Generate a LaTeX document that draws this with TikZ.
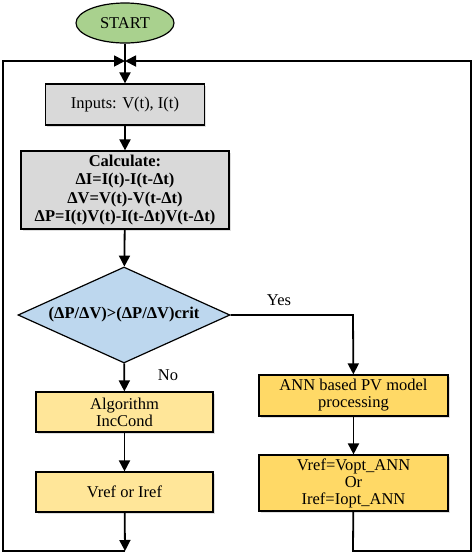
\documentclass[tikz,border=0pt]{standalone}
\usepackage{fontspec}
\setmainfont{Liberation Serif}
\usepackage{tikz}
\usetikzlibrary{arrows.meta}
\usetikzlibrary{shapes.geometric}
\usetikzlibrary{shadows}

\definecolor{startgreen}{HTML}{A9D18E}
\definecolor{boxgray}{HTML}{D9D9D9}
\definecolor{checkblue}{HTML}{BDD7EE}
\definecolor{leftyellow}{HTML}{FFE699}
\definecolor{rightyellow}{HTML}{FFD966}

\tikzset{
  flowarrow/.style={line width=1.8pt,-{Triangle[length=11pt,width=11pt]}},
  procbox/.style={draw,line width=1.2pt,rectangle,align=center,inner sep=0pt,
    drop shadow={shadow xshift=1.5pt,shadow yshift=-1.5pt,fill=black!25}},
  boxtext/.style={font=\fontsize{16.5}{17}\selectfont}
}

\begin{document}
\begin{tikzpicture}[x=1pt,y=-1pt]
      \useasboundingbox (0,0) rectangle (474,555);
      % blocks
      \node[draw,line width=1.2pt,ellipse,fill=startgreen,minimum width=98pt,minimum height=40pt,inner sep=0pt,boxtext] (start) at (125,23) {START};
      \node[procbox,fill=boxgray,minimum width=159pt,minimum height=41pt,boxtext] (inputs) at (125,104.5) {Inputs: V(t), I(t)};
      \node[procbox,fill=boxgray,minimum width=208pt,minimum height=78pt,font=\fontsize{16.5}{18.5}\selectfont\bfseries] (calc) at (125,190) {Calculate:\\ΔI=I(t)-I(t-Δt)\\ΔV=V(t)-V(t-Δt)\\ΔP=I(t)V(t)-I(t-Δt)V(t-Δt)};
      \node[draw,line width=1.2pt,diamond,aspect=2.2,fill=checkblue,minimum width=212pt,minimum height=96pt,inner sep=0pt,font=\fontsize{16.5}{17}\selectfont\bfseries] (check) at (124,315) {(ΔP/ΔV)>(ΔP/ΔV)crit};
      \node[procbox,fill=leftyellow,minimum width=177pt,minimum height=40pt,boxtext] (incond) at (124.5,412) {Algorithm\\IncCond};
      \node[procbox,fill=leftyellow,minimum width=177pt,minimum height=40pt,boxtext] (vref) at (124.5,492) {Vref or Iref};
      \node[procbox,fill=rightyellow,minimum width=189pt,minimum height=41pt,boxtext] (ann) at (353.5,395.5) {ANN based PV model\\processing};
      \node[procbox,fill=rightyellow,minimum width=189pt,minimum height=56pt,boxtext] (vopt) at (353.5,483) {Vref=Vopt\_ANN\\Or\\Iref=Iopt\_ANN};
      % labels
      \node[boxtext] (yes) at (279,300) {Yes};
      \node[boxtext] (no) at (168,375) {No};
      % loop corners
      \coordinate (merge) at (125,61);
      \coordinate (botleft) at (125,551);
      \coordinate (botright) at (353,551);
      \coordinate (turn) at (353,315);
      % main flow
      \draw[flowarrow] (start) -- (inputs);
      \draw[flowarrow] (inputs) -- (calc);
      \draw[flowarrow] (calc) -- (check);
      \draw[flowarrow] (check) -- (incond);
      \draw[flowarrow] (incond) -- (vref);
      \draw[flowarrow] (ann) -- (vopt);
      \draw[flowarrow] (check.east) -- (turn) -- (ann);
      % feedback loops
      \draw[flowarrow] (vref) -- (botleft);
      \draw[flowarrow] (botleft) -- (3,551) -- (3,61) -- (merge);
      \draw[flowarrow] (vopt) -- (botright) -- (471,551) -- (471,61) -- (merge);
\end{tikzpicture}
\end{document}
